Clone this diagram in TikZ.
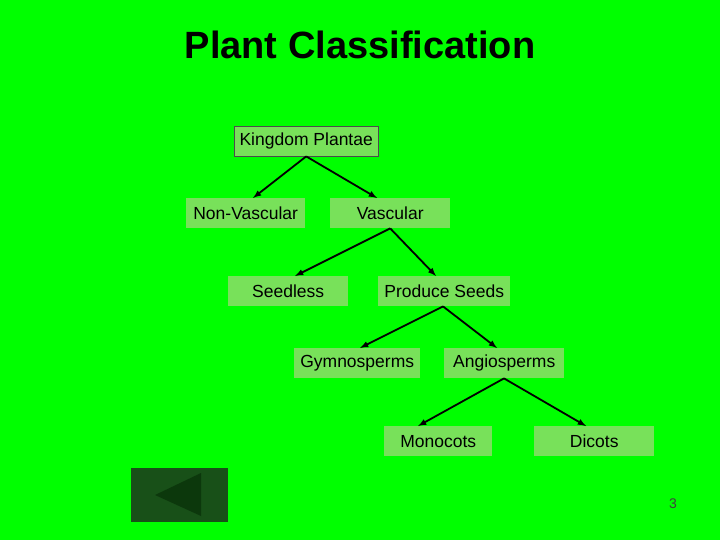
\documentclass[tikz,border=0pt]{standalone}
\usepackage{fontspec}
\setmainfont{Liberation Sans}
\usetikzlibrary{calc}
\definecolor{bg}{RGB}{0,255,0}
\definecolor{boxc}{RGB}{120,225,90}
\definecolor{btn}{RGB}{24,80,24}
\definecolor{btntri}{RGB}{12,56,12}
\begin{document}
\begin{tikzpicture}[x=1pt,y=-1pt,
  box/.style={fill=boxc,inner sep=0pt,anchor=north west,font=\fontsize{17.5}{20}\selectfont},
  arr/.style={-latex,line width=1.8pt}]
\fill[bg] (0,0) rectangle (720,540);
\node[font=\fontsize{38}{44}\selectfont\bfseries] (title) at (360,45) {Plant Classification};
\node[box,draw=black!70,minimum width=144pt,minimum height=30pt] (kp) at (234,126) {Kingdom Plantae};
\node[box,minimum width=119pt,minimum height=30pt] (nv) at (186,198) {Non-Vascular};
\node[box,minimum width=120pt,minimum height=30pt] (va) at (330,198) {Vascular};
\node[box,minimum width=120pt,minimum height=30pt] (sl) at (228,276) {Seedless};
\node[box,minimum width=132pt,minimum height=30pt] (ps) at (378,276) {Produce Seeds};
\node[box,minimum width=126pt,minimum height=30pt] (gy) at (294,348) {Gymnosperms};
\node[box,minimum width=120pt,minimum height=30pt] (an) at (444,348) {Angiosperms};
\node[box,minimum width=108pt,minimum height=30pt] (mo) at (384,426) {Monocots};
\node[box,minimum width=120pt,minimum height=30pt] (di) at (534,426) {Dicots};
\draw[arr] (kp.south) -- ($(nv.north west)+(67,0)$);
\draw[arr] (kp.south) -- ($(va.north west)+(47,0)$);
\draw[arr] (va.south) -- ($(sl.north west)+(67,0)$);
\draw[arr] (va.south) -- ($(ps.north west)+(58,0)$);
\draw[arr] ($(ps.south west)+(65,0)$) -- ($(gy.north west)+(66,0)$);
\draw[arr] ($(ps.south west)+(65,0)$) -- ($(an.north west)+(53,0)$);
\draw[arr] ($(an.south west)+(60,0)$) -- ($(mo.north west)+(34,0)$);
\draw[arr] ($(an.south west)+(60,0)$) -- ($(di.north west)+(52,0)$);
\fill[btn] (131,468) rectangle (228,522);
\fill[btntri] (155,495) -- (201,473) -- (201,516) -- cycle;
\node[font=\fontsize{14}{16}\selectfont,text=black!75] (pg) at (673,504) {3};
\end{tikzpicture}
\end{document}
